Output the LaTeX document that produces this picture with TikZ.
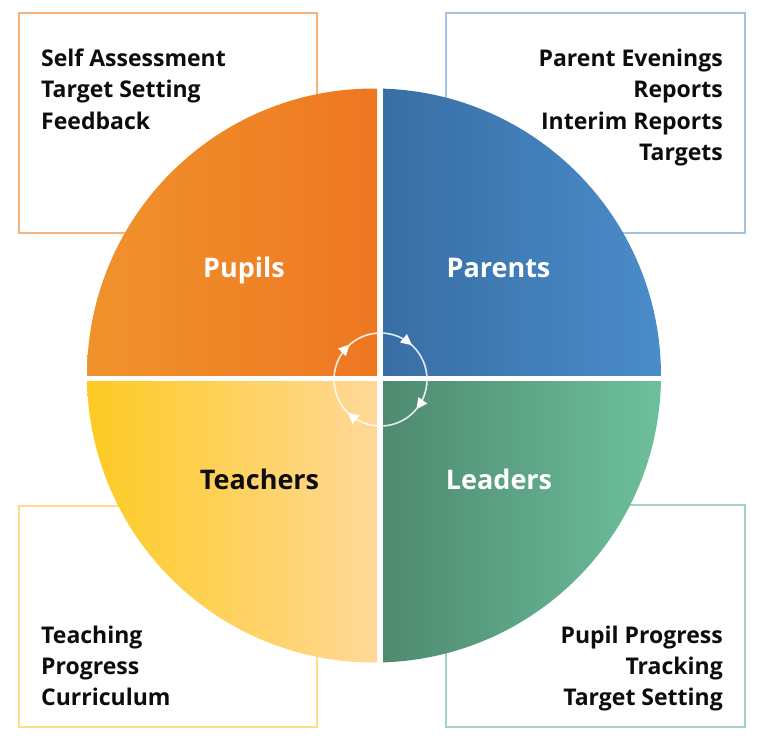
\documentclass[tikz,border=0pt]{standalone}
\usepackage{fontspec}
\setmainfont{Open Sans}
\usetikzlibrary{decorations.markings,arrows.meta}
\definecolor{oL}{HTML}{F0932C}
\definecolor{oR}{HTML}{EE7722}
\definecolor{bL}{HTML}{386EA4}
\definecolor{bR}{HTML}{4A8CCA}
\definecolor{yL}{HTML}{FDCB22}
\definecolor{yR}{HTML}{FFD898}
\definecolor{gL}{HTML}{4E8A70}
\definecolor{gR}{HTML}{6DC09D}
\definecolor{boxO}{HTML}{F6B47C}
\definecolor{boxB}{HTML}{A2C3DF}
\definecolor{boxY}{HTML}{FFD98C}
\definecolor{boxG}{HTML}{A3D2BE}
\tikzset{ringtip/.tip={Triangle[length=15pt,width=13pt]}}
\begin{document}
\begin{tikzpicture}[x=1pt,y=-1pt,
  item/.style={inner sep=0pt, font=\fontsize{23}{31}\selectfont\bfseries, text=black!95},
  lab/.style={inner sep=0pt, font=\fontsize{27}{32}\selectfont\bfseries},
  infobox/.style={line width=1.3pt},
  ring/.style={draw=white, line width=1.6pt, draw opacity=0.85,
    postaction={decorate},
    decoration={markings,
      mark=at position 0.10 with {\fill[white] (3pt,0) -- (-8pt,-5.5pt) -- (-8pt,5.5pt) -- cycle;},
      mark=at position 0.364 with {\fill[white] (3pt,0) -- (-8pt,-5.5pt) -- (-8pt,5.5pt) -- cycle;},
      mark=at position 0.625 with {\fill[white] (3pt,0) -- (-8pt,-5.5pt) -- (-8pt,5.5pt) -- cycle;},
      mark=at position 0.858 with {\fill[white] (3pt,0) -- (-8pt,-5.5pt) -- (-8pt,5.5pt) -- cycle;}}}]
\useasboundingbox (0,0) rectangle (768,740);
\fill[white] (0,0) rectangle (768,740);

% outer boxes
\draw[infobox, draw=boxO] (19,13) rectangle (317,233);
\draw[infobox, draw=boxB] (446,13) rectangle (745,233);
\draw[infobox, draw=boxY] (19,506) rectangle (317,727);
\draw[infobox, draw=boxG] (446,505) rectangle (745,727);

% quadrants
\begin{scope}
\clip (374,375.5) circle (287);
\shade[left color=oL, right color=oR] (87,88) rectangle (377,375.5);
\shade[left color=bL, right color=bR] (383,88) rectangle (662,375.5);
\shade[left color=yL, right color=yR] (87,381.5) rectangle (377,663);
\shade[left color=gL, right color=gR] (383,381.5) rectangle (662,663);
\end{scope}

% centre ring with arrows
\coordinate (cc) at (380.5,379.5);
\draw[ring] (cc) ++(46.5,0) arc[start angle=0, end angle=360, radius=46.5];

% quadrant labels
\node[lab, text=white, anchor=base] (pupils) at (244,277.5) {Pupils};
\node[lab, text=white, anchor=base] (parents) at (498.5,277.5) {Parents};
\node[lab, text=black!95, anchor=base] (teachers) at (259.5,489) {Teachers};
\node[lab, text=white, anchor=base] (leaders) at (499,489) {Leaders};

% top-left list
\node[item, anchor=base west] (tl1) at (41,66) {Self Assessment};
\node[item, anchor=base west] (tl2) at (41,97.5) {Target Setting};
\node[item, anchor=base west] (tl3) at (41,129) {Feedback};

% top-right list
\node[item, anchor=base east] (tr1) at (723,66) {Parent Evenings};
\node[item, anchor=base east] (tr2) at (723,97) {Reports};
\node[item, anchor=base east] (tr3) at (723,129) {Interim Reports};
\node[item, anchor=base east] (tr4) at (723,160) {Targets};

% bottom-left list
\node[item, anchor=base west] (bl1) at (41,643) {Teaching};
\node[item, anchor=base west] (bl2) at (41,674) {Progress};
\node[item, anchor=base west] (bl3) at (41,705) {Curriculum};

% bottom-right list
\node[item, anchor=base east] (br1) at (723,643) {Pupil Progress};
\node[item, anchor=base east] (br2) at (723,674) {Tracking};
\node[item, anchor=base east] (br3) at (723,705) {Target Setting};
\end{tikzpicture}
\end{document}
